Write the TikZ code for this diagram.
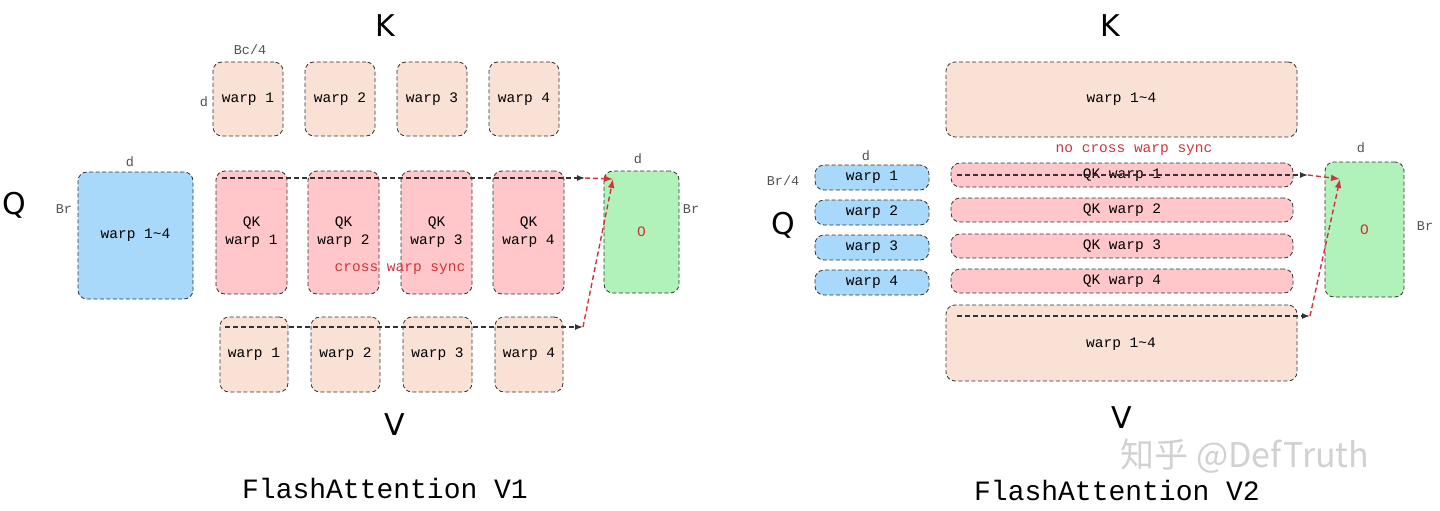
\documentclass[tikz,border=0pt]{standalone}
\usepackage{fontspec}
\setmainfont{Liberation Mono}
\newfontfamily\cjk{Noto Sans CJK SC}
\newfontfamily\sans{DejaVu Sans}
\usetikzlibrary{arrows.meta}
\definecolor{kv}{HTML}{FAE1D6}
\definecolor{qk}{HTML}{FFC7C9}
\definecolor{qb}{HTML}{A8D8FA}
\definecolor{og}{HTML}{B1F2BA}
\definecolor{rd}{HTML}{D0343A}
\definecolor{dk}{HTML}{333333}
\begin{document}
\begin{tikzpicture}[x=1pt,y=-1pt,
 bx/.style={draw=dk,dashed,dash pattern=on 4pt off 2.5pt,rounded corners=9pt,line width=0.8pt,font=\fontsize{14.5}{18}\selectfont,align=center},
 tx/.style={font=\fontsize{14.5}{18}\selectfont,align=center},
 lab/.style={font=\fontsize{13.5}{15}\selectfont,text=dk!85},
 big/.style={font=\sans\fontsize{30}{32}\selectfont},
 ar/.style={dash pattern=on 5pt off 3pt,line width=1.4pt,dk,-{Latex[length=8pt]}},
 ra/.style={dash pattern=on 5pt off 3pt,line width=1.4pt,rd,-{Latex[length=9pt]}}]
\useasboundingbox (0,0) rectangle (1440,511);
\newcommand\bx[6]{\node[bx,fill=#6,minimum width=#3-#2,minimum height=#5-#4] (#1) at ({(#2+#3)/2},{(#4+#5)/2}) {};}
% ---------- V1 ----------
\node[big] (k1) at (385,26) {K};
\node[lab] (bc) at (250,50) {Bc/4};
\node[lab] (dk1) at (204,102) {d};
\foreach \i/\a/\b in {1/213/283,2/305/375,3/397/467,4/489/559}{
 \bx{ka\i}{\a}{\b}{62}{136}{kv}\node[tx] at (ka\i) {warp \i};}
\bx{qa}{78}{193}{172}{299}{qb}\node[tx] at (qa) {warp 1\textasciitilde4};
\node[lab] (dq1) at (130,162) {d};
\node[lab] (brq1) at (64,209) {Br};
\node[big] (q1) at (14,205) {Q};
\foreach \i/\a/\b in {1/216/287,2/308/379,3/401/472,4/493/564}{
 \bx{qka\i}{\a}{\b}{171}{294}{qk}\node[tx] at (qka\i) {QK\\warp \i};}
\node[tx,text=rd] (cws) at (400,269) {cross warp sync};
\bx{oa}{604}{679}{171}{293}{og}\node[tx,text=rd] at (oa) {O};
\node[lab] (do1) at (638,159) {d};
\node[lab] (bro1) at (691,209) {Br};
\foreach \i/\a/\b in {1/220/288,2/311/380,3/403/472,4/495/563}{
 \bx{va\i}{\a}{\b}{317}{392}{kv}\node[tx] at (va\i) {warp \i};}
\node[big] (v1) at (395,425) {V};
\node[font=\fontsize{28}{32}\selectfont] (t1) at (385,488) {FlashAttention V1};
\coordinate (a1s) at (222,178); \coordinate (a1e) at (585,178);
\coordinate (b1s) at (225,327); \coordinate (b1e) at (583,327);
\coordinate (o1) at (613,179);
\draw[ar] (a1s) -- (a1e);
\draw[ar] (b1s) -- (b1e);
\draw[ra] (a1e) -- (o1);
\draw[ra] (b1e) -- (o1);
% ---------- V2 ----------
\node[big] (k2) at (1110,26) {K};
\bx{kb}{946}{1297}{62}{137}{kv}\node[tx] at (kb) {warp 1\textasciitilde4};
\node[tx,text=rd] (ncws) at (1134,150) {no cross warp sync};
\node[lab] (dq2) at (866,156) {d};
\node[lab] (br4) at (783,181) {Br/4};
\node[big] (q2) at (783,225) {Q};
\foreach \i/\a in {1/165,2/200,3/235,4/270}{
 \bx{qb\i}{815}{929}{\a}{\a+25}{qb}\node[tx] at (qb\i) {warp \i};}
\foreach \i/\a in {1/163,2/198,3/234,4/269}{
 \bx{qkb\i}{951}{1293}{\a}{\a+24}{qk}\node[tx] at (qkb\i) {QK warp \i};}
\bx{ob}{1325}{1404}{162}{297}{og}\node[tx,text=rd] at (ob) {O};
\node[lab] (do2) at (1361,148) {d};
\node[lab] (bro2) at (1425,226) {Br};
\bx{vb}{946}{1297}{305}{381}{kv}\node[tx] at (1121,344) {warp 1\textasciitilde4};
\node[big] (v2) at (1122,418) {V};
\node[font=\fontsize{28}{32}\selectfont] (t2) at (1117,490) {FlashAttention V2};
\node[font=\cjk\fontsize{34}{38}\selectfont,text=black!18] (wm) at (1245,456) {知乎 @DefTruth};
\coordinate (a2s) at (957,175); \coordinate (a2e) at (1308,175);
\coordinate (b2s) at (957,316); \coordinate (b2e) at (1310,316);
\coordinate (o2) at (1340,179);
\draw[ar] (a2s) -- (a2e);
\draw[ar] (b2s) -- (b2e);
\draw[ra] (a2e) -- (o2);
\draw[ra] (b2e) -- (o2);
\end{tikzpicture}
\end{document}
